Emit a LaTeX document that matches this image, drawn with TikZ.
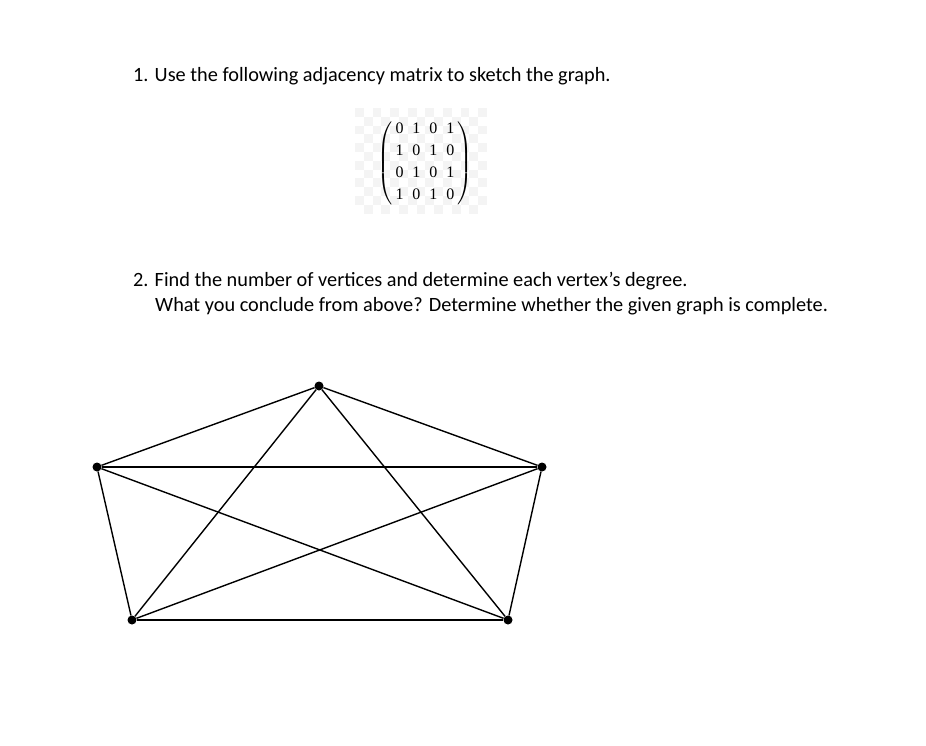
\documentclass[tikz,border=0pt]{standalone}
\usepackage{amsmath}
\usepackage{fontspec}
\setmainfont{Carlito}
\newfontfamily\matfont{Liberation Serif}
\begin{document}
\begin{tikzpicture}[x=1pt,y=-1pt,
  vtx/.style={circle,fill=black,inner sep=0pt,minimum size=9pt},
  edge/.style={line width=1.4pt},
  txt/.style={anchor=west,font=\fontsize{20.3}{24}\selectfont,inner sep=0pt}]
\useasboundingbox[fill=white] (0,0) rectangle (926,746);
% checkerboard background of pasted matrix
\foreach \i in {0,...,14}{\foreach \j in {0,...,11}{
  \pgfmathtruncatemacro{\p}{mod(\i+\j,2)}
  \ifnum\p=0 \fill[gray!9] (355+\i*8.8,108+\j*8.8) rectangle ++(8.8,8.8);\fi}}
\node[inner sep=0pt,font=\matfont\fontsize{16}{19}\selectfont] (mat) at (425,163)
 {$\left(\begin{array}{@{\,}c@{\hspace{9pt}}c@{\hspace{9pt}}c@{\hspace{9pt}}c@{\,}}
 \text{0}&\text{1}&\text{0}&\text{1}\\[3pt]
 \text{1}&\text{0}&\text{1}&\text{0}\\[3pt]
 \text{0}&\text{1}&\text{0}&\text{1}\\[3pt]
 \text{1}&\text{0}&\text{1}&\text{0}\end{array}\right)$};
\node[txt] (t1) at (133,76) {1. Use the following adjacency matrix to sketch the graph.};
\node[txt] (t2) at (133,281) {2. Find the number of vertices and determine each vertex’s degree.};
\node[txt] (t3) at (155,306) {What you conclude from above? Determine whether the given graph is complete.};
\node[vtx] (a) at (319,386) {};
\node[vtx] (b) at (97,467) {};
\node[vtx] (c) at (542,467) {};
\node[vtx] (d) at (132,620) {};
\node[vtx] (e) at (508,620) {};
\foreach \u/\v in {a/b,a/c,a/d,a/e,b/c,b/d,b/e,c/d,c/e,d/e}
  \draw[edge] (\u) -- (\v);
\end{tikzpicture}
\end{document}
